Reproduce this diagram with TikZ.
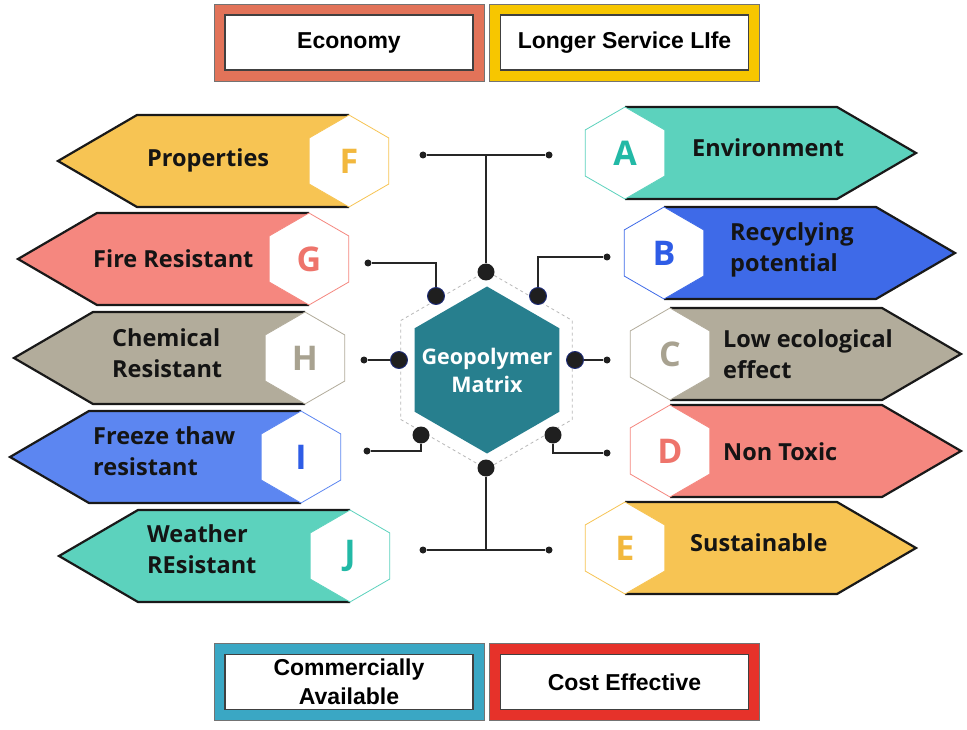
\documentclass[tikz,border=0pt]{standalone}
\usepackage{fontspec}
\setmainfont{Open Sans}
\newfontfamily\arialf{Liberation Sans}
\usetikzlibrary{shapes.geometric}
\definecolor{ecoC}{HTML}{E27359}
\definecolor{lifeC}{HTML}{F7C600}
\definecolor{comC}{HTML}{3AA7C4}
\definecolor{costC}{HTML}{E6322A}
\definecolor{yelC}{HTML}{F7C453}
\definecolor{pinkC}{HTML}{F5877F}
\definecolor{grayC}{HTML}{B2AC9B}
\definecolor{blueLC}{HTML}{5C86F1}
\definecolor{blueC}{HTML}{3E6AE8}
\definecolor{tealC}{HTML}{5CD2BD}
\definecolor{hexC}{HTML}{277F8E}
\definecolor{yelT}{HTML}{F2B83E}
\definecolor{pinkT}{HTML}{EE746B}
\definecolor{grayT}{HTML}{A8A290}
\definecolor{blueT}{HTML}{2E5CE6}
\definecolor{tealT}{HTML}{22B9A6}
\definecolor{navyC}{HTML}{1C2B78}
\newcommand{\LArr}[3]{%
  \fill[#3] (#1,#2-46) -- (#1-212,#2-46) -- (#1-291,#2) -- (#1-212,#2+46) -- (#1,#2+46) -- cycle;
  \draw[outl] (#1,#2-46) -- (#1-212,#2-46) -- (#1-291,#2) -- (#1-212,#2+46) -- (#1,#2+46);}
\newcommand{\RArr}[3]{%
  \fill[#3] (#1,#2-46) -- (#1+212,#2-46) -- (#1+291,#2) -- (#1+212,#2+46) -- (#1,#2+46) -- cycle;
  \draw[outl] (#1,#2-46) -- (#1+212,#2-46) -- (#1+291,#2) -- (#1+212,#2+46) -- (#1,#2+46);}
\begin{document}
\begin{tikzpicture}[x=1pt,y=-1pt,
  outl/.style={draw=black!90,line width=2.2pt,line join=miter},
  badge/.style={shape=regular polygon,regular polygon sides=6,regular polygon rotate=30,
    minimum size=92pt,inner sep=0pt,outer sep=0pt,fill=white,draw=#1,line width=0.8pt,
    font=\bfseries\fontsize{34}{34}\selectfont},
  lbl/.style={anchor=west,align=left,text=black!92,font=\bfseries\fontsize{23.5}{31}\selectfont,inner sep=0pt},
  oframe/.style={draw=black!55,line width=0.8pt,fill=#1,minimum width=270pt,minimum height=77pt,inner sep=0pt},
  ibox/.style={draw=black!75,line width=1.2pt,fill=white,minimum width=248pt,minimum height=55pt,inner sep=0pt,
    align=center,font=\arialf\bfseries\fontsize{23}{29}\selectfont},
  hexshape/.style={regular polygon,regular polygon sides=6,regular polygon rotate=30,inner sep=0pt,outer sep=0pt},
  ccirc/.style={circle,fill=black!88,inner sep=0pt,minimum size=17pt},
  ccircb/.style={ccirc,draw=navyC,line width=0.9pt},
  dot/.style={circle,fill=black!88,inner sep=0pt,minimum size=7pt},
  conn/.style={draw=black!85,line width=1.3pt}]
\useasboundingbox (0,0) rectangle (967,730);
\fill[white] (0,0) rectangle (967,730);

% top and bottom boxes
\node[oframe=ecoC] (econF) at (349,42.5) {};
\node[ibox] (econ) at (349,42.5) {Economy};
\node[oframe=lifeC] (lifeF) at (624.5,42.5) {};
\node[ibox] (life) at (624.5,42.5) {Longer Service LIfe};
\node[oframe=comC] (comF) at (349,682) {};
\node[ibox] (com) at (349,682) {Commercially\\Available};
\node[oframe=costC] (costF) at (624.5,682) {};
\node[ibox] (cost) at (624.5,682) {Cost Effective};

% left arrows
\LArr{349}{161}{yelC}
\LArr{309}{259}{pinkC}
\LArr{305}{358}{grayC}
\LArr{301}{457}{blueLC}
\LArr{350}{556}{tealC}
% right arrows
\RArr{625}{153}{tealC}
\RArr{664}{253}{blueC}
\RArr{670}{354}{grayC}
\RArr{670}{451}{pinkC}
\RArr{625}{548}{yelC}

% badges
\node[badge=yelC,text=yelT] (hF) at (349,161) {F};
\node[badge=pinkC,text=pinkT] (hG) at (309,259) {G};
\node[badge=grayC,text=grayT] (hH) at (305,358) {H};
\node[badge=blueLC,text=blueT] (hI) at (301,457) {I};
\node[badge=tealC,text=tealT] (hJ) at (350,556) {J};
\node[badge=tealC,text=tealT] (hA) at (625,153) {A};
\node[badge=blueC,text=blueT] (hB) at (664,253) {B};
\node[badge=grayC,text=grayT] (hC) at (670,354) {C};
\node[badge=pinkC,text=pinkT] (hD) at (670,451) {D};
\node[badge=yelC,text=yelT] (hE) at (625,548) {E};

% labels
\node[lbl] (tF) at (147,160) {Properties};
\node[lbl] (tG) at (93,259) {Fire Resistant};
\node[lbl] (tH) at (112,353) {Chemical\\Resistant};
\node[lbl] (tI) at (93,451) {Freeze thaw\\resistant};
\node[lbl] (tJ) at (147,549) {Weather\\REsistant};
\node[lbl] (tA) at (692,148) {Environment};
\node[lbl] (tB) at (730,250) {Recyclying\\potential};
\node[lbl] (tC) at (723,354) {Low ecological\\effect};
\node[lbl] (tD) at (723,452) {Non Toxic};
\node[lbl] (tE) at (690,543) {Sustainable};

% centre
\node[hexshape,minimum size=198pt,draw=black!28,dashed,line width=0.8pt] (dash) at (486.5,370) {};
\node[hexshape,minimum size=167pt,fill=hexC] (core) at (487,370) {};
\node[text=white,align=center,inner sep=0pt,
  font=\bfseries\fontsize{21.5}{28}\selectfont] (coreT) at (487,370) {Geopolymer\\Matrix};

\node[ccirc] (ct) at (486,272) {};
\node[ccircb] (cul) at (436,296) {};
\node[ccircb] (cur) at (538,296) {};
\node[ccircb] (cl) at (399,360) {};
\node[ccircb] (cr) at (575,360) {};
\node[ccirc] (cll) at (421,435) {};
\node[ccirc] (clr) at (553,435) {};
\node[ccirc] (cb) at (486,468) {};

\node[dot] (dF) at (423,155) {};
\node[dot] (dA) at (549,155) {};
\node[dot] (dG) at (368,263) {};
\node[dot] (dB) at (607,257) {};
\node[dot] (dH) at (364,360) {};
\node[dot] (dC) at (607,360) {};
\node[dot] (dI) at (367,451) {};
\node[dot] (dD) at (607,453) {};
\node[dot] (dJ) at (423,550) {};
\node[dot] (dE) at (549,550) {};

\draw[conn] (dF) -- (dA);
\draw[conn] (ct) -- (ct |- dF);
\draw[conn] (dJ) -- (dE);
\draw[conn] (cb) -- (cb |- dJ);
\draw[conn] (cul) |- (dG);
\draw[conn] (cur) |- (dB);
\draw[conn] (cl) -- (dH);
\draw[conn] (cr) -- (dC);
\draw[conn] (cll) |- (dI);
\draw[conn] (clr) |- (dD);
\end{tikzpicture}
\end{document}
